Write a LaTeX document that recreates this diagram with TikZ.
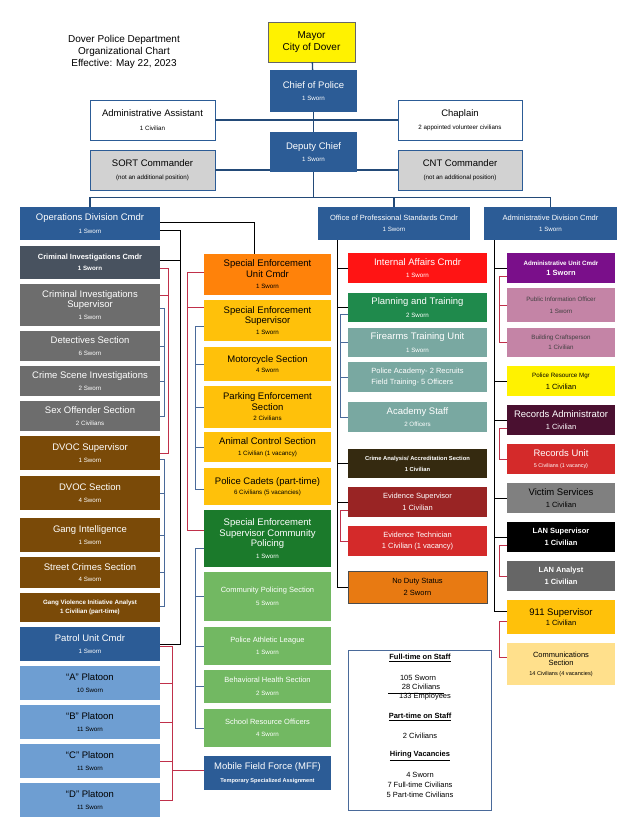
\documentclass[tikz,border=0pt]{standalone}
\usepackage{fontspec}
\setmainfont{Liberation Sans}
\newcommand\tl{\fontsize{9.5}{10.5}\selectfont}
\newcommand\tm{\fontsize{7.5}{8.5}\selectfont}
\newcommand\ts{\fontsize{6.2}{7.2}\selectfont}
\newcommand\orgnode[7]{\node[unit,#6,minimum width={#4-#2},minimum height={#5-#3}] (#1) at ({(#2+#4)/2},{(#3+#5)/2}) {#7};}
\definecolor{chiefblue}{HTML}{2C5C96}
\definecolor{lightblue}{HTML}{6E9ED2}
\definecolor{slate}{HTML}{48525F}
\definecolor{midgray}{HTML}{6D6D6D}
\definecolor{brown}{HTML}{7A4A08}
\definecolor{seorange}{HTML}{FF820A}
\definecolor{amber}{HTML}{FFC10A}
\definecolor{dkgreen}{HTML}{1B7A2B}
\definecolor{ltgreen}{HTML}{72B862}
\definecolor{teal}{HTML}{79A8A1}
\definecolor{iared}{HTML}{FF1414}
\definecolor{ptgreen}{HTML}{1F8A4C}
\definecolor{darkolive}{HTML}{352A10}
\definecolor{evred}{HTML}{992424}
\definecolor{evtred}{HTML}{D42A2A}
\definecolor{ndorange}{HTML}{E87A12}
\definecolor{purple}{HTML}{7A0F8A}
\definecolor{pink}{HTML}{C484A6}
\definecolor{maroon}{HTML}{4A1030}
\definecolor{vsgray}{HTML}{808080}
\definecolor{lgray}{HTML}{666666}
\definecolor{commyel}{HTML}{FFE08C}
\definecolor{bracketred}{HTML}{C0304A}
\definecolor{bracketblue}{HTML}{4A6A9A}
\definecolor{sortgray}{HTML}{D2D2D2}
\begin{document}
\begin{tikzpicture}[x=1pt,y=-1pt,
    unit/.style={inner sep=1pt, align=center, font=\tl},
    sumline/.style={font=\tm},
    blk/.style={draw=black, line width=0.7pt},
    toplink/.style={draw=chiefblue!80!black, line width=1.3pt},
    redln/.style={draw=bracketred, line width=0.7pt},
    blu/.style={draw=bracketblue, line width=0.7pt}]
    \useasboundingbox[fill=white] (0,0) rectangle (640,837);

    % Title
    \node[font=\fontsize{10}{12}\selectfont, align=center] (title) at (124,52) {Dover Police Department\\Organizational Chart\\Effective: May 22, 2023};

    % Top levels
    \orgnode{mayor}{268}{22}{355}{62}{fill=yellow, draw=black!60, font=\fontsize{10}{12}\selectfont}{Mayor\\City of Dover}
    \orgnode{chief}{270}{70}{357}{112}{fill=chiefblue, text=white}{Chief of Police\\[2pt]{\ts 1 Sworn}}
    \orgnode{aa}{90}{100}{215}{140}{draw=chiefblue}{Administrative Assistant\\[3pt]{\ts 1 Civilian}}
    \orgnode{chap}{398}{100}{522}{140}{draw=chiefblue}{Chaplain\\[3pt]{\ts 2 appointed volunteer civilians}}
    \orgnode{deputy}{270}{132}{357}{172}{fill=chiefblue, text=white}{Deputy Chief\\[1pt]{\ts 1 Sworn}}
    \orgnode{sort}{90}{150}{215}{190}{fill=sortgray, draw=chiefblue}{SORT Commander\\[3pt]{\ts (not an additional position)}}
    \orgnode{cnt}{398}{150}{522}{190}{fill=sortgray, draw=chiefblue}{CNT Commander\\[3pt]{\ts (not an additional position)}}

    % Divisions
    \orgnode{ops}{20}{207}{160}{240}{fill=chiefblue, text=white}{Operations Division Cmdr\\[2pt]{\ts 1 Sworn}}
    \orgnode{osc}{318}{207}{470}{240}{fill=chiefblue, text=white, font=\tm}{Office of Professional Standards Cmdr\\[2pt]{\ts 1 Sworn}}
    \orgnode{adm}{484}{207}{617}{240}{fill=chiefblue, text=white, font=\tm}{Administrative Division Cmdr\\[2pt]{\ts 1 Sworn}}

    % Operations, left column
    \orgnode{cic}{20}{246}{160}{279}{fill=slate, text=white, font=\tm\bfseries}{Criminal Investigations Cmdr\\[2pt]{\ts 1 Sworn}}
    \orgnode{cis}{20}{284}{160}{326}{fill=midgray, text=white}{Criminal Investigations\\Supervisor\\[1pt]{\ts 1 Sworn}}
    \orgnode{det}{20}{331}{160}{361}{fill=midgray, text=white}{Detectives Section\\[1pt]{\ts 6 Sworn}}
    \orgnode{csi}{20}{366}{160}{396}{fill=midgray, text=white}{Crime Scene Investigations\\[1pt]{\ts 2 Sworn}}
    \orgnode{sos}{20}{401}{160}{431}{fill=midgray, text=white}{Sex Offender Section\\[1pt]{\ts 2 Civilians}}
    \orgnode{dvs}{20}{436}{160}{470}{fill=brown, text=white}{DVOC Supervisor\\[2pt]{\ts 1 Sworn}}
    \orgnode{dvc}{20}{476}{160}{510}{fill=brown, text=white}{DVOC Section\\[2pt]{\ts 4 Sworn}}
    \orgnode{gin}{20}{518}{160}{552}{fill=brown, text=white}{Gang Intelligence\\[2pt]{\ts 1 Sworn}}
    \orgnode{scs}{20}{557}{160}{588}{fill=brown, text=white}{Street Crimes Section\\[1pt]{\ts 4 Sworn}}
    \orgnode{gva}{20}{593}{160}{622}{fill=brown, text=white, font=\ts\bfseries}{Gang Violence Initiative Analyst\\[2pt]1 Civilian (part-time)}
    \orgnode{pat}{20}{627}{160}{661}{fill=chiefblue, text=white}{Patrol Unit Cmdr\\[2pt]{\ts 1 Sworn}}
    \orgnode{pa}{20}{666}{160}{700}{fill=lightblue}{``A'' Platoon\\[2pt]{\ts 10 Sworn}}
    \orgnode{pb}{20}{705}{160}{739}{fill=lightblue}{``B'' Platoon\\[2pt]{\ts 11 Sworn}}
    \orgnode{pc}{20}{744}{160}{778}{fill=lightblue}{``C'' Platoon\\[2pt]{\ts 11 Sworn}}
    \orgnode{pd}{20}{783}{160}{817}{fill=lightblue}{``D'' Platoon\\[2pt]{\ts 11 Sworn}}

    % Operations, middle column
    \orgnode{seu}{204}{254}{331}{295}{fill=seorange}{Special Enforcement\\Unit Cmdr\\[1pt]{\ts 1 Sworn}}
    \orgnode{ses}{204}{300}{331}{341}{fill=amber}{Special Enforcement\\Supervisor\\{\ts 1 Sworn}}
    \orgnode{mot}{204}{347}{331}{381}{fill=amber}{Motorcycle Section\\{\ts 4 Sworn}}
    \orgnode{pes}{204}{386}{331}{428}{fill=amber}{Parking Enforcement\\Section\\{\ts 2 Civilians}}
    \orgnode{acs}{204}{432}{331}{462}{fill=amber}{Animal Control Section\\{\ts 1 Civilian (1 vacancy)}}
    \orgnode{cad}{204}{468}{331}{505}{fill=amber}{Police Cadets (part-time)\\{\ts 6 Civilians (5 vacancies)}}
    \orgnode{sec}{204}{510}{331}{567}{fill=dkgreen, text=white}{Special Enforcement\\Supervisor Community\\Policing\\[1pt]{\ts 1 Sworn}}
    \orgnode{cps}{204}{572}{331}{621}{fill=ltgreen, text=white, font=\tm}{Community Policing Section\\[4pt]{\ts 5 Sworn}}
    \orgnode{pal}{204}{627}{331}{665}{fill=ltgreen, text=white, font=\tm}{Police Athletic League\\[4pt]{\ts 1 Sworn}}
    \orgnode{bhs}{204}{670}{331}{703}{fill=ltgreen, text=white, font=\tm}{Behavioral Health Section\\[4pt]{\ts 2 Sworn}}
    \orgnode{sro}{204}{709}{331}{747}{fill=ltgreen, text=white, font=\tm}{School Resource Officers\\[4pt]{\ts 4 Sworn}}
    \orgnode{mff}{204}{756}{331}{790}{fill=chiefblue, text=white}{Mobile Field Force (MFF)\\[2pt]{\fontsize{5.6}{6.6}\selectfont\bfseries Temporary Specialized Assignment}}

    % Professional standards column
    \orgnode{ia}{348}{253}{487}{283}{fill=iared, text=white}{Internal Affairs Cmdr\\[2pt]{\ts 1 Sworn}}
    \orgnode{pt}{348}{293}{487}{322}{fill=ptgreen, text=white}{Planning and Training\\[2pt]{\ts 2 Sworn}}
    \orgnode{fire}{348}{328}{487}{357}{fill=teal, text=white}{Firearms Training Unit\\[2pt]{\ts 1 Sworn}}
    \orgnode{acad}{348}{362}{487}{392}{fill=teal, text=white, font=\tm, align=left}{Police Academy- 2 Recruits\\[3pt]Field Training- 5 Officers}
    \orgnode{ast}{348}{402}{487}{432}{fill=teal, text=white}{Academy Staff\\[2pt]{\ts 2 Officers}}
    \orgnode{cas}{348}{449}{487}{478}{fill=darkolive, text=white, font=\fontsize{5.8}{7}\selectfont\bfseries}{Crime Analysis/ Accreditation Section\\[4pt]1 Civilian}
    \orgnode{evs}{348}{487}{487}{517}{fill=evred, text=white, font=\tm}{Evidence Supervisor\\[3pt]1 Civilian}
    \orgnode{evt}{348}{526}{487}{556}{fill=evtred, text=white, font=\tm}{Evidence Technician\\[3pt]1 Civilian (1 vacancy)}
    \orgnode{nds}{348}{571}{487}{603}{fill=ndorange, draw=black!70, font=\tm}{No Duty Status\\[3pt]2 Sworn}

    % Staff summary
    \node[draw=bracketblue, minimum width=143, minimum height=160, anchor=north west] (sum) at (348,650) {};
    \node[sumline, font=\tm\bfseries] (fts) at (420,658) {\underline{Full-time on Staff}};
    \node[sumline] (s105) at (418,678) {105 Sworn};
    \node[sumline] (s28) at (421,687) {28 Civilians};
    \node[sumline] (s133) at (425,697) {133 Employees};
    \draw[line width=0.8pt] (s28.south west) ++(-10,0.5) -- ([yshift=-0.5]s28.south east);
    \node[sumline, font=\tm\bfseries] (pts) at (420,717) {\underline{Part-time on Staff}};
    \node[sumline] (s2) at (420,736) {2 Civilians};
    \node[sumline, font=\tm\bfseries] (hv) at (420,756) {\underline{Hiring Vacancies}};
    \node[sumline] (s4) at (420,775) {4 Sworn};
    \node[sumline] (s7) at (420,785) {7 Full-time Civilians};
    \node[sumline] (s5) at (420,795) {5 Part-time Civilians};

    % Administrative column
    \orgnode{auc}{507}{253}{615}{283}{fill=purple, text=white, font=\ts\bfseries}{Administrative Unit Cmdr\\[3pt]{\tm 1 Sworn}}
    \orgnode{pio}{507}{288}{615}{322}{fill=pink, text=black!75, font=\ts}{Public Information Officer\\[5pt]1 Sworn}
    \orgnode{bcp}{507}{328}{615}{357}{fill=pink, text=black!75, font=\ts}{Building Craftsperson\\[3pt]1 Civilian}
    \orgnode{prm}{507}{366}{615}{396}{fill=yellow, font=\ts}{Police Resource Mgr\\[5pt]{\tm 1 Civilian}}
    \orgnode{rad}{507}{405}{615}{435}{fill=maroon, text=white}{Records Administrator\\[1pt]{\tm 1 Civilian}}
    \orgnode{rec}{507}{444}{615}{474}{fill=evtred, text=white}{Records Unit\\[1pt]{\fontsize{5.4}{6.4}\selectfont 5 Civilians (1 vacancy)}}
    \orgnode{vic}{507}{483}{615}{513}{fill=vsgray}{Victim Services\\[1pt]{\tm 1 Civilian}}
    \orgnode{lan}{507}{522}{615}{552}{fill=black, text=white, font=\tm\bfseries}{LAN Supervisor\\[3pt]1 Civilian}
    \orgnode{lana}{507}{561}{615}{591}{fill=lgray, text=white, font=\tm\bfseries}{LAN Analyst\\[3pt]1 Civilian}
    \orgnode{sup}{507}{600}{615}{634}{fill=amber}{911 Supervisor\\{\tm 1 Civilian}}
    \orgnode{cms}{507}{643}{615}{685}{fill=commyel, font=\tm}{Communications\\Section\\[1pt]{\fontsize{5.6}{6.6}\selectfont 14 Civilians (4 vacancies)}}

    % Top connectors
    \draw[toplink] (mayor) -- (chief);
    \draw[toplink] (chief) -- (deputy);
    \draw[toplink] (aa.east) -- (chap.west);
    \draw[toplink] (sort.east) -- (sort.east -| deputy.west);
    \draw[toplink] (cnt.west -| deputy.east) -- (cnt.west);
    \draw[toplink] (deputy.south) -- ++(0,26) coordinate (bus);
    \draw[toplink] (ops.north) -- ++(0,-9) -| (adm.north);
    \draw[toplink] (osc.north) -- ++(0,-9);

    % Operations connectors
    \draw[blk] ([yshift=1.5]ops.east) -| ([xshift=-13]seu.north);
    \draw[blk] ([yshift=-6.5]ops.east) -- ++(20,0) |- (pat.east);
    \draw[blk] ([yshift=2.5]cic.east) -- ++(20,0);
    \draw[redln] ([yshift=-6]cic.east) -- ++(8,0) |- (dvs.east);
    \draw[redln] ([yshift=10]cis.east) -- ++(8,0);
    \draw[blu] ([yshift=-3]cis.east) -- ++(4,0) |- (sos.east);
    \foreach \n in {det,csi} \draw[blu] (\n.east) -- ++(4,0);
    \draw[blu] ([yshift=-6]dvs.east) -- ++(4,0) |- ([yshift=1]gva.east);
    \foreach \n in {dvc,gin,scs} \draw[blu] (\n.east) -- ++(4,0);
    \draw[redln] ([yshift=-2]pat.east) -- ++(12,0) |- (pd.east);
    \foreach \n in {pa,pb,pc} \draw[redln] (\n.east) -- ++(12,0);
    \draw[redln] ([yshift=3]mff.west) -- ++(-32,0);
    \draw[redln] ([yshift=2.5]seu.west) -- ++(-16,0) |- ([yshift=8]sec.west);
    \draw[redln] ([yshift=13]ses.west) -- ++(-16,0);
    \draw[blu] ([yshift=-6]ses.west) -- ++(-8,0) |- ([yshift=-3]cad.west);
    \foreach \n in {mot,pes,acs} \draw[blu] (\n.west) -- ++(-8,0);
    \draw[blu] ([yshift=-10]sec.west) -- ++(-8,0) |- (sro.west);
    \foreach \n in {cps,pal,bhs} \draw[blu] (\n.west) -- ++(-8,0);

    % Professional standards connectors
    \coordinate (osv) at (337,240);
    \draw[blk] (osv) |- ([yshift=-0.5]nds.west);
    \foreach \n in {ia,pt,cas,evs} \draw[blk] (osv |- \n.west) -- (\n.west);
    \draw[blu] ([yshift=-7]pt.west) -- ++(-7,0) |- (ast.west);
    \foreach \n in {fire,acad} \draw[blu] (\n.west) -- ++(-7,0);
    \draw[redln] ([yshift=-8]evs.west) -- ++(-7,0) |- (evt.west);

    % Administrative connectors
    \coordinate (adv) at (494,240);
    \draw[blk] (adv) |- ([yshift=6]sup.west);
    \foreach \n in {auc,prm,rad,vic,lan} \draw[blk] (adv |- \n.west) -- (\n.west);
    \draw[redln] ([yshift=-8]auc.west) -- ++(-7,0) |- (bcp.west);
    \draw[redln] (pio.west) -- ++(-7,0);
    \draw[redln] ([yshift=-8]rad.west) -- ++(-7,0) |- (rec.west);
    \draw[redln] ([yshift=-8]lan.west) -- ++(-7,0) |- (lana.west);
    \draw[redln] ([yshift=-4]sup.west) -- ++(-7,0) |- ([yshift=7]cms.west);
\end{tikzpicture}
\end{document}
